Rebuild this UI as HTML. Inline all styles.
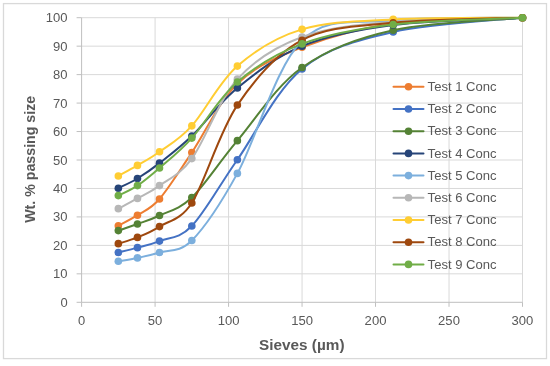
<!DOCTYPE html>
<html><head><meta charset="utf-8"><title>Sieves chart</title>
<style>
html,body{margin:0;padding:0;background:#fff;}
body{width:550px;height:366px;overflow:hidden;}
svg{display:block;}
text{font-family:"Liberation Sans",sans-serif;fill:#595959;}
.tk{font-size:12.5px;}
.lg{font-size:12.3px;}
.ttl{font-size:15.2px;font-weight:bold;}
</style></head><body>
<svg width="550" height="366" viewBox="0 0 550 366">
<rect x="0" y="0" width="550" height="366" fill="#ffffff"/>
<rect x="3.5" y="3.6" width="543" height="355" fill="#ffffff" stroke="#D9D9D9" stroke-width="1.3"/>

<g stroke="#D9D9D9" stroke-width="1" fill="none">
<line x1="81.60" y1="273.84" x2="522.50" y2="273.84"/>
<line x1="81.60" y1="245.38" x2="522.50" y2="245.38"/>
<line x1="81.60" y1="216.92" x2="522.50" y2="216.92"/>
<line x1="81.60" y1="188.46" x2="522.50" y2="188.46"/>
<line x1="81.60" y1="160.00" x2="522.50" y2="160.00"/>
<line x1="81.60" y1="131.54" x2="522.50" y2="131.54"/>
<line x1="81.60" y1="103.08" x2="522.50" y2="103.08"/>
<line x1="81.60" y1="74.62" x2="522.50" y2="74.62"/>
<line x1="81.60" y1="46.16" x2="522.50" y2="46.16"/>
<line x1="81.60" y1="17.70" x2="522.50" y2="17.70"/>
<line x1="155.08" y1="17.70" x2="155.08" y2="302.30"/>
<line x1="228.57" y1="17.70" x2="228.57" y2="302.30"/>
<line x1="302.05" y1="17.70" x2="302.05" y2="302.30"/>
<line x1="375.53" y1="17.70" x2="375.53" y2="302.30"/>
<line x1="449.02" y1="17.70" x2="449.02" y2="302.30"/>
<line x1="522.50" y1="17.70" x2="522.50" y2="302.30"/>
</g>
<g stroke="#BFBFBF" stroke-width="1" fill="none">
<line x1="81.60" y1="17.70" x2="81.60" y2="302.30"/>
<line x1="81.60" y1="302.30" x2="522.50" y2="302.30"/>
<line x1="76.60" y1="302.30" x2="81.60" y2="302.30"/>
<line x1="76.60" y1="273.84" x2="81.60" y2="273.84"/>
<line x1="76.60" y1="245.38" x2="81.60" y2="245.38"/>
<line x1="76.60" y1="216.92" x2="81.60" y2="216.92"/>
<line x1="76.60" y1="188.46" x2="81.60" y2="188.46"/>
<line x1="76.60" y1="160.00" x2="81.60" y2="160.00"/>
<line x1="76.60" y1="131.54" x2="81.60" y2="131.54"/>
<line x1="76.60" y1="103.08" x2="81.60" y2="103.08"/>
<line x1="76.60" y1="74.62" x2="81.60" y2="74.62"/>
<line x1="76.60" y1="46.16" x2="81.60" y2="46.16"/>
<line x1="76.60" y1="17.70" x2="81.60" y2="17.70"/>
<line x1="81.60" y1="302.30" x2="81.60" y2="306.80"/>
<line x1="155.08" y1="302.30" x2="155.08" y2="306.80"/>
<line x1="228.57" y1="302.30" x2="228.57" y2="306.80"/>
<line x1="302.05" y1="302.30" x2="302.05" y2="306.80"/>
<line x1="375.53" y1="302.30" x2="375.53" y2="306.80"/>
<line x1="449.02" y1="302.30" x2="449.02" y2="306.80"/>
<line x1="522.50" y1="302.30" x2="522.50" y2="306.80"/>
</g>
<text class="tk" x="67.6" y="306.80" text-anchor="end" textLength="7.2" lengthAdjust="spacingAndGlyphs">0</text>
<text class="tk" x="67.6" y="278.34" text-anchor="end" textLength="14.5" lengthAdjust="spacingAndGlyphs">10</text>
<text class="tk" x="67.6" y="249.88" text-anchor="end" textLength="14.5" lengthAdjust="spacingAndGlyphs">20</text>
<text class="tk" x="67.6" y="221.42" text-anchor="end" textLength="14.5" lengthAdjust="spacingAndGlyphs">30</text>
<text class="tk" x="67.6" y="192.96" text-anchor="end" textLength="14.5" lengthAdjust="spacingAndGlyphs">40</text>
<text class="tk" x="67.6" y="164.50" text-anchor="end" textLength="14.5" lengthAdjust="spacingAndGlyphs">50</text>
<text class="tk" x="67.6" y="136.04" text-anchor="end" textLength="14.5" lengthAdjust="spacingAndGlyphs">60</text>
<text class="tk" x="67.6" y="107.58" text-anchor="end" textLength="14.5" lengthAdjust="spacingAndGlyphs">70</text>
<text class="tk" x="67.6" y="79.12" text-anchor="end" textLength="14.5" lengthAdjust="spacingAndGlyphs">80</text>
<text class="tk" x="67.6" y="50.66" text-anchor="end" textLength="14.5" lengthAdjust="spacingAndGlyphs">90</text>
<text class="tk" x="67.6" y="22.20" text-anchor="end" textLength="21.8" lengthAdjust="spacingAndGlyphs">100</text>
<text class="tk" x="81.60" y="325.4" text-anchor="middle" textLength="7.2" lengthAdjust="spacingAndGlyphs">0</text>
<text class="tk" x="155.08" y="325.4" text-anchor="middle" textLength="14.5" lengthAdjust="spacingAndGlyphs">50</text>
<text class="tk" x="228.57" y="325.4" text-anchor="middle" textLength="21.8" lengthAdjust="spacingAndGlyphs">100</text>
<text class="tk" x="302.05" y="325.4" text-anchor="middle" textLength="21.8" lengthAdjust="spacingAndGlyphs">150</text>
<text class="tk" x="375.53" y="325.4" text-anchor="middle" textLength="21.8" lengthAdjust="spacingAndGlyphs">200</text>
<text class="tk" x="449.02" y="325.4" text-anchor="middle" textLength="21.8" lengthAdjust="spacingAndGlyphs">250</text>
<text class="tk" x="522.50" y="325.4" text-anchor="middle" textLength="21.8" lengthAdjust="spacingAndGlyphs">300</text>
<text class="ttl" x="301.8" y="349.6" text-anchor="middle" textLength="85.4" lengthAdjust="spacingAndGlyphs">Sieves (µm)</text>
<text class="ttl" transform="translate(35.2,159.3) rotate(-90)" text-anchor="middle" textLength="127" lengthAdjust="spacingAndGlyphs">Wt. % passing size</text>
<g fill="#ED7D31" stroke="#ED7D31">
<path d="M118.34,225.74 C121.53,223.99 130.59,219.67 137.45,215.21 C144.31,210.75 150.52,209.32 159.49,198.99 C168.56,188.55 178.84,171.81 191.82,152.60 C204.81,133.39 219.01,101.28 237.38,83.73 C255.76,66.18 276.09,57.35 302.05,47.30 C328.01,37.24 356.43,28.33 393.17,23.39 C429.91,18.46 500.94,18.65 522.50,17.70" fill="none" stroke-width="2" stroke-linecap="round" stroke-linejoin="round"/>
<circle cx="118.34" cy="225.74" r="3.8" stroke="none"/>
<circle cx="137.45" cy="215.21" r="3.8" stroke="none"/>
<circle cx="159.49" cy="198.99" r="3.8" stroke="none"/>
<circle cx="191.82" cy="152.60" r="3.8" stroke="none"/>
<circle cx="237.38" cy="83.73" r="3.8" stroke="none"/>
<circle cx="302.05" cy="47.30" r="3.8" stroke="none"/>
<circle cx="393.17" cy="23.39" r="3.8" stroke="none"/>
<circle cx="522.50" cy="17.70" r="3.8" stroke="none"/>
</g>
<g fill="#4472C4" stroke="#4472C4">
<path d="M118.34,252.50 C121.53,251.69 130.59,249.55 137.45,247.66 C144.31,245.76 150.43,244.72 159.49,241.11 C168.56,237.51 179.49,238.92 191.82,226.03 C204.81,212.46 219.01,185.90 237.38,159.72 C255.76,133.53 276.09,90.23 302.05,68.93 C328.01,47.63 356.43,40.47 393.17,31.93 C429.91,23.39 500.94,20.07 522.50,17.70" fill="none" stroke-width="2" stroke-linecap="round" stroke-linejoin="round"/>
<circle cx="118.34" cy="252.50" r="3.8" stroke="none"/>
<circle cx="137.45" cy="247.66" r="3.8" stroke="none"/>
<circle cx="159.49" cy="241.11" r="3.8" stroke="none"/>
<circle cx="191.82" cy="226.03" r="3.8" stroke="none"/>
<circle cx="237.38" cy="159.72" r="3.8" stroke="none"/>
<circle cx="302.05" cy="68.93" r="3.8" stroke="none"/>
<circle cx="393.17" cy="31.93" r="3.8" stroke="none"/>
<circle cx="522.50" cy="17.70" r="3.8" stroke="none"/>
</g>
<g fill="#548235" stroke="#548235">
<path d="M118.34,230.58 C121.53,229.49 130.59,226.55 137.45,224.03 C144.31,221.52 150.43,219.91 159.49,215.50 C168.56,211.09 178.84,210.04 191.82,197.57 C204.81,185.09 219.01,162.32 237.38,140.65 C255.76,118.97 276.09,85.91 302.05,67.50 C328.01,49.10 356.43,38.52 393.17,30.22 C429.91,21.92 500.94,19.79 522.50,17.70" fill="none" stroke-width="2" stroke-linecap="round" stroke-linejoin="round"/>
<circle cx="118.34" cy="230.58" r="3.8" stroke="none"/>
<circle cx="137.45" cy="224.03" r="3.8" stroke="none"/>
<circle cx="159.49" cy="215.50" r="3.8" stroke="none"/>
<circle cx="191.82" cy="197.57" r="3.8" stroke="none"/>
<circle cx="237.38" cy="140.65" r="3.8" stroke="none"/>
<circle cx="302.05" cy="67.50" r="3.8" stroke="none"/>
<circle cx="393.17" cy="30.22" r="3.8" stroke="none"/>
<circle cx="522.50" cy="17.70" r="3.8" stroke="none"/>
</g>
<g fill="#264478" stroke="#264478">
<path d="M118.34,188.18 C121.53,186.56 130.59,182.67 137.45,178.50 C144.31,174.32 150.43,170.20 159.49,163.13 C168.56,156.06 178.84,148.62 191.82,136.09 C204.81,123.57 219.01,102.99 237.38,88.00 C255.76,73.01 276.09,56.64 302.05,46.16 C328.01,35.68 356.43,29.84 393.17,25.10 C429.91,20.36 500.94,18.93 522.50,17.70" fill="none" stroke-width="2" stroke-linecap="round" stroke-linejoin="round"/>
<circle cx="118.34" cy="188.18" r="3.8" stroke="none"/>
<circle cx="137.45" cy="178.50" r="3.8" stroke="none"/>
<circle cx="159.49" cy="163.13" r="3.8" stroke="none"/>
<circle cx="191.82" cy="136.09" r="3.8" stroke="none"/>
<circle cx="237.38" cy="88.00" r="3.8" stroke="none"/>
<circle cx="302.05" cy="46.16" r="3.8" stroke="none"/>
<circle cx="393.17" cy="25.10" r="3.8" stroke="none"/>
<circle cx="522.50" cy="17.70" r="3.8" stroke="none"/>
</g>
<g fill="#7CAFDD" stroke="#7CAFDD">
<path d="M118.34,261.32 C121.53,260.75 130.59,259.37 137.45,257.90 C144.31,256.43 150.43,255.39 159.49,252.50 C168.56,249.60 179.73,252.82 191.82,240.54 C204.81,227.36 219.01,206.72 237.38,173.38 C255.76,140.03 276.09,65.94 302.05,40.47 C328.01,15.00 356.43,24.34 393.17,20.55 C429.91,16.75 500.94,18.17 522.50,17.70" fill="none" stroke-width="2" stroke-linecap="round" stroke-linejoin="round"/>
<circle cx="118.34" cy="261.32" r="3.8" stroke="none"/>
<circle cx="137.45" cy="257.90" r="3.8" stroke="none"/>
<circle cx="159.49" cy="252.50" r="3.8" stroke="none"/>
<circle cx="191.82" cy="240.54" r="3.8" stroke="none"/>
<circle cx="237.38" cy="173.38" r="3.8" stroke="none"/>
<circle cx="302.05" cy="40.47" r="3.8" stroke="none"/>
<circle cx="393.17" cy="20.55" r="3.8" stroke="none"/>
<circle cx="522.50" cy="17.70" r="3.8" stroke="none"/>
</g>
<g fill="#B7B7B7" stroke="#B7B7B7">
<path d="M118.34,208.67 C121.53,206.96 130.59,202.26 137.45,198.42 C144.31,194.58 150.43,192.25 159.49,185.61 C168.56,178.97 179.38,175.58 191.82,158.58 C204.81,140.84 219.01,99.43 237.38,79.17 C255.76,58.92 276.09,46.63 302.05,37.05 C328.01,27.47 356.43,24.91 393.17,21.68 C429.91,18.46 500.94,18.36 522.50,17.70" fill="none" stroke-width="2" stroke-linecap="round" stroke-linejoin="round"/>
<circle cx="118.34" cy="208.67" r="3.8" stroke="none"/>
<circle cx="137.45" cy="198.42" r="3.8" stroke="none"/>
<circle cx="159.49" cy="185.61" r="3.8" stroke="none"/>
<circle cx="191.82" cy="158.58" r="3.8" stroke="none"/>
<circle cx="237.38" cy="79.17" r="3.8" stroke="none"/>
<circle cx="302.05" cy="37.05" r="3.8" stroke="none"/>
<circle cx="393.17" cy="21.68" r="3.8" stroke="none"/>
<circle cx="522.50" cy="17.70" r="3.8" stroke="none"/>
</g>
<g fill="#FFCD33" stroke="#FFCD33">
<path d="M118.34,175.94 C121.53,174.18 130.59,169.44 137.45,165.41 C144.31,161.38 150.43,158.34 159.49,151.75 C168.56,145.15 178.84,140.13 191.82,125.85 C204.81,111.57 219.01,82.16 237.38,66.08 C255.76,50.00 276.09,37.15 302.05,29.37 C328.01,21.59 356.43,21.35 393.17,19.41 C429.91,17.46 500.94,17.98 522.50,17.70" fill="none" stroke-width="2" stroke-linecap="round" stroke-linejoin="round"/>
<circle cx="118.34" cy="175.94" r="3.8" stroke="none"/>
<circle cx="137.45" cy="165.41" r="3.8" stroke="none"/>
<circle cx="159.49" cy="151.75" r="3.8" stroke="none"/>
<circle cx="191.82" cy="125.85" r="3.8" stroke="none"/>
<circle cx="237.38" cy="66.08" r="3.8" stroke="none"/>
<circle cx="302.05" cy="29.37" r="3.8" stroke="none"/>
<circle cx="393.17" cy="19.41" r="3.8" stroke="none"/>
<circle cx="522.50" cy="17.70" r="3.8" stroke="none"/>
</g>
<g fill="#9E480E" stroke="#9E480E">
<path d="M118.34,243.67 C121.53,242.63 130.59,240.26 137.45,237.41 C144.31,234.57 150.43,232.34 159.49,226.60 C168.56,220.86 181.02,219.83 191.82,202.97 C204.81,182.72 219.01,132.20 237.38,105.07 C255.76,77.94 276.09,53.89 302.05,40.18 C328.01,26.48 356.43,26.57 393.17,22.82 C429.91,19.08 500.94,18.55 522.50,17.70" fill="none" stroke-width="2" stroke-linecap="round" stroke-linejoin="round"/>
<circle cx="118.34" cy="243.67" r="3.8" stroke="none"/>
<circle cx="137.45" cy="237.41" r="3.8" stroke="none"/>
<circle cx="159.49" cy="226.60" r="3.8" stroke="none"/>
<circle cx="191.82" cy="202.97" r="3.8" stroke="none"/>
<circle cx="237.38" cy="105.07" r="3.8" stroke="none"/>
<circle cx="302.05" cy="40.18" r="3.8" stroke="none"/>
<circle cx="393.17" cy="22.82" r="3.8" stroke="none"/>
<circle cx="522.50" cy="17.70" r="3.8" stroke="none"/>
</g>
<g fill="#70AD47" stroke="#70AD47">
<path d="M118.34,195.58 C121.53,193.91 130.59,190.22 137.45,185.61 C144.31,181.01 150.43,175.89 159.49,167.97 C168.56,160.05 178.84,152.41 191.82,138.09 C204.81,123.76 219.01,97.72 237.38,82.02 C255.76,66.32 276.09,53.46 302.05,43.88 C328.01,34.30 356.43,28.89 393.17,24.53 C429.91,20.17 500.94,18.84 522.50,17.70" fill="none" stroke-width="2" stroke-linecap="round" stroke-linejoin="round"/>
<circle cx="118.34" cy="195.58" r="3.8" stroke="none"/>
<circle cx="137.45" cy="185.61" r="3.8" stroke="none"/>
<circle cx="159.49" cy="167.97" r="3.8" stroke="none"/>
<circle cx="191.82" cy="138.09" r="3.8" stroke="none"/>
<circle cx="237.38" cy="82.02" r="3.8" stroke="none"/>
<circle cx="302.05" cy="43.88" r="3.8" stroke="none"/>
<circle cx="393.17" cy="24.53" r="3.8" stroke="none"/>
<circle cx="522.50" cy="17.70" r="3.8" stroke="none"/>
</g>
<g fill="#ED7D31" stroke="#ED7D31"><line x1="393.5" y1="86.80" x2="423.5" y2="86.80" stroke-width="2" stroke-linecap="round"/><circle cx="408.5" cy="86.80" r="3.8" stroke="none"/></g>
<text class="lg" x="427.6" y="90.90" textLength="69" lengthAdjust="spacingAndGlyphs">Test 1 Conc</text>
<g fill="#4472C4" stroke="#4472C4"><line x1="393.5" y1="109.00" x2="423.5" y2="109.00" stroke-width="2" stroke-linecap="round"/><circle cx="408.5" cy="109.00" r="3.8" stroke="none"/></g>
<text class="lg" x="427.6" y="113.10" textLength="69" lengthAdjust="spacingAndGlyphs">Test 2 Conc</text>
<g fill="#548235" stroke="#548235"><line x1="393.5" y1="131.20" x2="423.5" y2="131.20" stroke-width="2" stroke-linecap="round"/><circle cx="408.5" cy="131.20" r="3.8" stroke="none"/></g>
<text class="lg" x="427.6" y="135.30" textLength="69" lengthAdjust="spacingAndGlyphs">Test 3 Conc</text>
<g fill="#264478" stroke="#264478"><line x1="393.5" y1="153.40" x2="423.5" y2="153.40" stroke-width="2" stroke-linecap="round"/><circle cx="408.5" cy="153.40" r="3.8" stroke="none"/></g>
<text class="lg" x="427.6" y="157.50" textLength="69" lengthAdjust="spacingAndGlyphs">Test 4 Conc</text>
<g fill="#7CAFDD" stroke="#7CAFDD"><line x1="393.5" y1="175.60" x2="423.5" y2="175.60" stroke-width="2" stroke-linecap="round"/><circle cx="408.5" cy="175.60" r="3.8" stroke="none"/></g>
<text class="lg" x="427.6" y="179.70" textLength="69" lengthAdjust="spacingAndGlyphs">Test 5 Conc</text>
<g fill="#B7B7B7" stroke="#B7B7B7"><line x1="393.5" y1="197.80" x2="423.5" y2="197.80" stroke-width="2" stroke-linecap="round"/><circle cx="408.5" cy="197.80" r="3.8" stroke="none"/></g>
<text class="lg" x="427.6" y="201.90" textLength="69" lengthAdjust="spacingAndGlyphs">Test 6 Conc</text>
<g fill="#FFCD33" stroke="#FFCD33"><line x1="393.5" y1="220.00" x2="423.5" y2="220.00" stroke-width="2" stroke-linecap="round"/><circle cx="408.5" cy="220.00" r="3.8" stroke="none"/></g>
<text class="lg" x="427.6" y="224.10" textLength="69" lengthAdjust="spacingAndGlyphs">Test 7 Conc</text>
<g fill="#9E480E" stroke="#9E480E"><line x1="393.5" y1="242.20" x2="423.5" y2="242.20" stroke-width="2" stroke-linecap="round"/><circle cx="408.5" cy="242.20" r="3.8" stroke="none"/></g>
<text class="lg" x="427.6" y="246.30" textLength="69" lengthAdjust="spacingAndGlyphs">Test 8 Conc</text>
<g fill="#70AD47" stroke="#70AD47"><line x1="393.5" y1="264.40" x2="423.5" y2="264.40" stroke-width="2" stroke-linecap="round"/><circle cx="408.5" cy="264.40" r="3.8" stroke="none"/></g>
<text class="lg" x="427.6" y="268.50" textLength="69" lengthAdjust="spacingAndGlyphs">Test 9 Conc</text>
</svg></body></html>
